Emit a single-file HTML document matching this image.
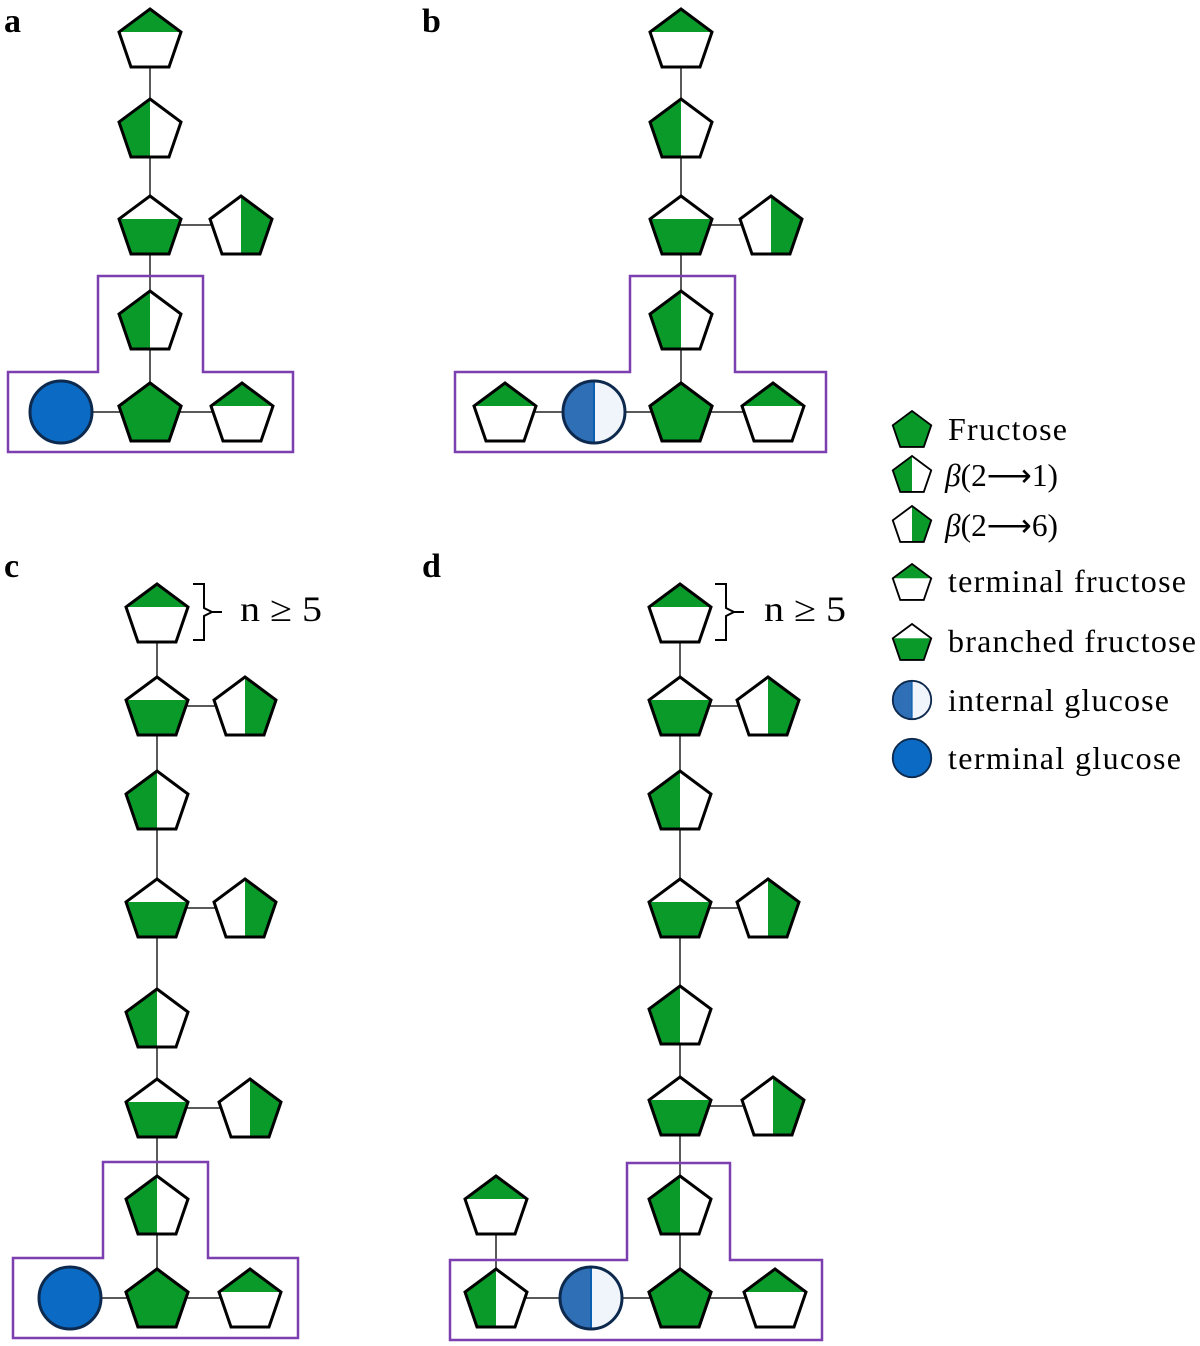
<!DOCTYPE html>
<html><head><meta charset="utf-8"><style>
html,body{margin:0;padding:0;background:#fff;}
svg{display:block;}
text{font-family:"Liberation Serif",serif;}
</style></head><body>
<svg id="s" width="1200" height="1346" viewBox="0 0 1200 1346" xmlns="http://www.w3.org/2000/svg">
<defs>
<clipPath id="pc"><polygon points="0,-29 31,-6 19,29 -19,29 -31,-6"/></clipPath>
<g id="F"><polygon points="0,-29 31,-6 19,29 -19,29 -31,-6" fill="#0a9a2a" stroke="#000" stroke-width="3" stroke-linejoin="miter"/></g>
<g id="L"><polygon points="0,-29 31,-6 19,29 -19,29 -31,-6" fill="#fff"/><rect x="-32" y="-30" width="32" height="60" fill="#0a9a2a" clip-path="url(#pc)"/><polygon points="0,-29 31,-6 19,29 -19,29 -31,-6" fill="none" stroke="#000" stroke-width="3"/></g>
<g id="R"><polygon points="0,-29 31,-6 19,29 -19,29 -31,-6" fill="#fff"/><rect x="0" y="-30" width="32" height="60" fill="#0a9a2a" clip-path="url(#pc)"/><polygon points="0,-29 31,-6 19,29 -19,29 -31,-6" fill="none" stroke="#000" stroke-width="3"/></g>
<g id="T"><polygon points="0,-29 31,-6 19,29 -19,29 -31,-6" fill="#fff"/><rect x="-32" y="-30" width="64" height="24" fill="#0a9a2a" clip-path="url(#pc)"/><polygon points="0,-29 31,-6 19,29 -19,29 -31,-6" fill="none" stroke="#000" stroke-width="3"/></g>
<g id="B"><polygon points="0,-29 31,-6 19,29 -19,29 -31,-6" fill="#fff"/><rect x="-32" y="-6" width="64" height="36" fill="#0a9a2a" clip-path="url(#pc)"/><polygon points="0,-29 31,-6 19,29 -19,29 -31,-6" fill="none" stroke="#000" stroke-width="3"/></g>
<g id="G"><circle r="31" fill="#0b6bc4" stroke="#0d2a4e" stroke-width="3"/></g>
<g id="H"><path d="M0,-31 A31,31 0 0 0 0,31 Z" fill="#2f6fb5"/><path d="M0,-31 A31,31 0 0 1 0,31 Z" fill="#f0f4fb"/><line x1="0" y1="-31" x2="0" y2="31" stroke="#0b5fb0" stroke-width="2"/><circle r="31" fill="none" stroke="#0d2a4e" stroke-width="3"/></g>
</defs>
<g id="lines" stroke="#222" stroke-width="1.5"></g>
<g id="boxes" fill="none" stroke="#7b3fb0" stroke-width="2.5">
<path d="M8,372 H98 V276 H203 V372 H293 V452 H8 Z"/>
<path d="M455,372 H630 V276 H735 V372 H826 V452 H455 Z"/>
<path d="M13,1258 H103 V1162 H208 V1258 H298 V1338 H13 Z"/>
<path d="M450,1260 H627 V1163 H730 V1260 H822 V1340 H450 Z"/>
</g>
<g id="shapes"></g>
<g font-weight="bold" font-size="34">
<text x="4" y="32">a</text><text x="422" y="32">b</text>
<text x="4" y="577">c</text><text x="422" y="577">d</text>
</g>
<g fill="none" stroke="#000" stroke-width="2">
<path d="M193,584 H204 V608 L212,612 L204,616 V640 H193 M212,612 H222"/>
<path d="M715,584 H726 V608 L734,612 L726,616 V640 H715 M734,612 H744"/>
</g>
<g font-size="36">
<text x="240" y="621" textLength="82" lengthAdjust="spacingAndGlyphs">n ≥ 5</text><text x="764" y="621" textLength="82" lengthAdjust="spacingAndGlyphs">n ≥ 5</text>
</g>
<g font-size="32">
<text x="948" y="440" textLength="119">Fructose</text>
<text x="945" y="486" textLength="113" lengthAdjust="spacingAndGlyphs"><tspan font-style="italic">β</tspan>(2⟶1)</text>
<text x="945" y="536" textLength="113" lengthAdjust="spacingAndGlyphs"><tspan font-style="italic">β</tspan>(2⟶6)</text>
<text x="948" y="592" textLength="238">terminal fructose</text>
<text x="948" y="652" textLength="248">branched fructose</text>
<text x="948" y="711" textLength="221">internal glucose</text>
<text x="948" y="769" textLength="233">terminal glucose</text>
</g>
<g id="legend"></g>
</svg>
<script>
var NS="http://www.w3.org/2000/svg";
function put(g,id,x,y,s){var u=document.createElementNS(NS,"use");u.setAttribute("href","#"+id);u.setAttribute("transform","translate("+x+","+y+")"+(s?" scale("+s+")":""));document.getElementById(g).appendChild(u);}
function ln(x1,y1,x2,y2){var l=document.createElementNS(NS,"line");l.setAttribute("x1",x1);l.setAttribute("y1",y1);l.setAttribute("x2",x2);l.setAttribute("y2",y2);document.getElementById("lines").appendChild(l);}
function col(x,items){for(var i=0;i<items.length-1;i++)ln(x,items[i][1],x,items[i+1][1]);items.forEach(function(it){put("shapes",it[0],x,it[1]);});}
col(150,[["T",38],["L",128],["B",225],["L",320],["F",412]]);
ln(150,225,241,225);put("shapes","R",241,225);
ln(61,412,242,412);put("shapes","G",61,412);put("shapes","T",242,412);put("shapes","F",150,412);
col(681,[["T",38],["L",128],["B",225],["L",320],["F",412]]);
ln(681,225,771,225);put("shapes","R",771,225);
ln(505,412,773,412);put("shapes","T",505,412);put("shapes","H",594,412);put("shapes","F",681,412);put("shapes","T",773,412);
col(157,[["T",613],["B",706],["L",800],["B",908],["L",1018],["B",1108],["L",1205],["F",1298]]);
[[706,245],[908,245],[1108,250]].forEach(function(p){ln(157,p[0],p[1],p[0]);put("shapes","R",p[1],p[0]);});
ln(70,1298,250,1298);put("shapes","G",70,1298);put("shapes","F",157,1298);put("shapes","T",250,1298);
col(680,[["T",613],["B",706],["L",800],["B",908],["L",1015],["B",1106],["L",1205],["F",1298]]);
[[706,768],[908,768],[1106,773]].forEach(function(p){ln(680,p[0],p[1],p[0]);put("shapes","R",p[1],p[0]);});
ln(496,1298,775,1298);ln(496,1205,496,1298);
put("shapes","T",496,1205);put("shapes","L",496,1298);put("shapes","H",591,1298);put("shapes","F",680,1298);put("shapes","T",775,1298);
var ly=[429,474,524,582,642,700,758],lid=["F","L","R","T","B","H","G"];
for(var i=0;i<7;i++)put("legend",lid[i],912,ly[i],0.62);
</script>
</body></html>
